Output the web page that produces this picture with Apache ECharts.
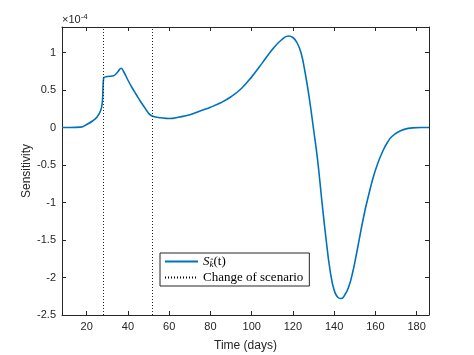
<!DOCTYPE html>
<html>
<head>
<meta charset="utf-8">
<script src="https://cdn.jsdelivr.net/npm/echarts@6/dist/echarts.min.js"></script>
<style>html,body{margin:0;padding:0;background:#fff}#c{width:474px;height:355px}</style>
</head>
<body>
<div id="c"></div>
<script>
// Time (days)
var days = [8,12,17,20,23,25,26.8,27.6,28.2,30,33,35,36.7,38,40,42,44,46,48,50,52,56,60,65,70,75,80,85,90,95,100,105,110,114.5,117.8,120,122,124,126,128,130,132,134,136,138,140,142,143.5,145,147,149,151,153,155,157,159,161,163.5,166,168,171,174,178,182,186];
// Sensitivity (x 1e-4)
var sensitivity = [0,0,0.005,0.04,0.09,0.14,0.23,0.35,0.66,0.68,0.69,0.74,0.79,0.74,0.63,0.53,0.44,0.35,0.27,0.19,0.15,0.13,0.12,0.14,0.17,0.22,0.27,0.33,0.41,0.52,0.675,0.855,1.04,1.17,1.22,1.20,1.13,0.99,0.72,0.38,-0.02,-0.44,-0.97,-1.47,-1.90,-2.17,-2.27,-2.28,-2.24,-2.13,-1.93,-1.66,-1.37,-1.10,-0.87,-0.66,-0.49,-0.32,-0.19,-0.12,-0.06,-0.025,-0.005,0,0];
var scenarioChanges = [28, 52];
var xTicks = [20,40,60,80,100,120,140,160,180];
var yTicks = [-2.5,-2,-1.5,-1,-0.5,0,0.5,1];
var xRange = [8, 186];
var yRange = [-2.5, 1.34];

var lineData = days.map(function(d, i){ return [d, sensitivity[i]]; });
var axisColor = '#262626';
var sans = 'Liberation Sans, Arial, sans-serif';

var chart = echarts.init(document.getElementById('c'), null, {renderer:'canvas'});
function xAx(pos, showLabel){
  return {
    type:'value', position:pos, min:xRange[0], max:xRange[1],
    axisLine:{show:true, onZero:false, lineStyle:{color:axisColor, width:1}},
    axisTick:{show:true, inside:true, length:4, customValues:xTicks, lineStyle:{color:axisColor}},
    axisLabel:{show:showLabel, customValues:xTicks, margin:6, color:axisColor, fontSize:11, fontFamily:sans},
    splitLine:{show:false},
    name: showLabel ? 'Time (days)' : '', nameLocation:'middle', nameGap:25, nameMoveOverlap:false,
    nameTextStyle:{color:axisColor, fontSize:12, fontFamily:sans}
  };
}
function yAx(pos, showLabel){
  return {
    type:'value', position:pos, min:yRange[0], max:yRange[1],
    axisLine:{show:true, onZero:false, lineStyle:{color:axisColor, width:1}},
    axisTick:{show:true, inside:true, length:4, customValues:yTicks, lineStyle:{color:axisColor}},
    axisLabel:{show:showLabel, customValues:yTicks, margin:6, color:axisColor, fontSize:11, fontFamily:sans},
    splitLine:{show:false},
    name: showLabel ? 'Sensitivity' : '', nameLocation:'middle', nameGap:29, nameMoveOverlap:false,
    nameTextStyle:{color:axisColor, fontSize:12, fontFamily:sans}
  };
}
chart.setOption({
  animation:false,
  backgroundColor:'#fff',
  grid:{left:62, right:45, top:27, bottom:40, containLabel:false, outerBoundsMode:'none'},
  xAxis:[xAx('bottom', true), xAx('top', false)],
  yAxis:[yAx('left', true), yAx('right', false)],
  legend:{
    orient:'vertical', left:160, top:253,
    backgroundColor:'#fff', borderColor:'#262626', borderWidth:1, borderRadius:0,
    padding:[2,6,2,4], itemGap:2, itemWidth:33, itemHeight:12,
    itemStyle:{color:'rgba(0,0,0,0)', borderColor:'rgba(0,0,0,0)', borderWidth:0, opacity:0},
    data:[{name:'S'}, {name:'Change of scenario'}],
    formatter:function(n){ return n === 'S' ? '{s|S}{k|k̂}{n|(t)}' : n; },
    textStyle:{fontFamily:'Liberation Serif, serif', fontSize:13, color:'#000',
      rich:{
        s:{fontFamily:'Liberation Serif, serif', fontStyle:'italic', fontSize:13, color:'#000'},
        k:{fontFamily:'Liberation Serif, serif', fontStyle:'italic', fontSize:9, color:'#000', verticalAlign:'bottom', padding:[6,0,0,0]},
        n:{fontFamily:'Liberation Serif, serif', fontSize:13, color:'#000'}
      }}
  },
  series:[
    {name:'S', type:'line', data:lineData, smooth:0.45, symbol:'none', showSymbol:false,
     lineStyle:{color:'#0072BD', width:1.6}, itemStyle:{color:'#0072BD'}},
    {name:'Change of scenario', type:'line', data:[], symbol:'none', showSymbol:false,
     lineStyle:{color:'#000', width:1, type:[1,2]}, itemStyle:{color:'#000'},
     markLine:{silent:true, symbol:'none', label:{show:false},
       lineStyle:{color:'#222', width:1, type:[1,2]},
       data: scenarioChanges.map(function(v){ return {xAxis:v}; })}}
  ],
  graphic:[{type:'text', left:62, top:13,
    style:{text:'{a|×10}{b|-4}', rich:{
      a:{fontSize:11, fontFamily:sans, fill:axisColor},
      b:{fontSize:8, fontFamily:sans, fill:axisColor, verticalAlign:'top', padding:[0,0,6,0]}}}}]
});
</script>
</body>
</html>
